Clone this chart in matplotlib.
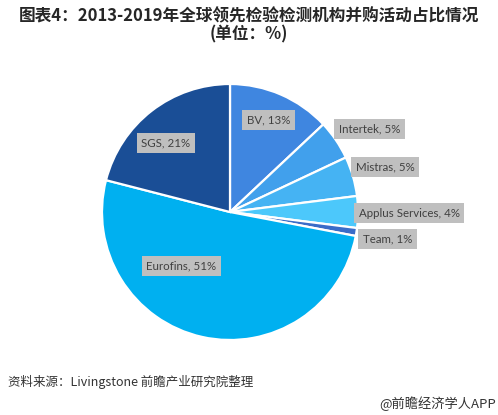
import numpy as np
import matplotlib
matplotlib.use("Agg")
from matplotlib import pyplot as plt

plt.rcParams["font.family"] = ["Noto Sans CJK SC", "DejaVu Sans"]

# data (clockwise from 12 o'clock)
companies = ["BV", "Intertek", "Mistras", "Applus Services", "Team", "Eurofins", "SGS"]
shares = [13, 5, 5, 4, 1, 51, 21]
colors = ["#3f86e0", "#41a0ec", "#45b3f3", "#4cc8fb", "#3a6cc8", "#00b0f0", "#1a4e96"]

title = "图表4：2013-2019年全球领先检验检测机构并购活动占比情况\n(单位：%)"
source = "资料来源：Livingstone 前瞻产业研究院整理"
brand = "@前瞻经济学人APP"

# label centres in units of pie radius
label_pos = [(0.30, 0.72), (1.09, 0.65), (1.21, 0.35), (1.40, -0.01),
             (1.23, -0.21), (-0.38, -0.42), (-0.50, 0.54)]

W, H = 498, 415
fig = plt.figure(figsize=(W / 100, H / 100), dpi=100)
fig.patch.set_facecolor("white")

cx, cy, R = 230, 212, 128
half = 150
ax = fig.add_axes([(cx - half) / W, (H - cy - half) / H, 2 * half / W, 2 * half / H])

ax.pie(shares, colors=colors, startangle=90, counterclock=False, radius=1,
       wedgeprops={"edgecolor": "white", "linewidth": 1.6})

# pie() resets the limits, so set them afterwards
lim = half / R
ax.set_xlim(-lim, lim)
ax.set_ylim(-lim, lim)
ax.set_aspect("equal")
ax.axis("off")

for name, val, (lx, ly) in zip(companies, shares, label_pos):
    ax.text(lx, ly, f"{name}, {val}%", ha="center", va="center",
            fontsize=8.3, family=["Lato", "DejaVu Sans"], color="#404040",
            bbox={"boxstyle": "square,pad=0.4", "facecolor": "#bfbfbf",
                  "edgecolor": "none"}, clip_on=False)

fig.text(0.5, 1 - 25 / H, title, ha="center", va="center", fontsize=12,
         fontweight="bold", color="#262626", linespacing=1.0)
fig.text(8 / W, 1 - 382 / H, source, ha="left", va="center", fontsize=9,
         color="#333333")
fig.text(1 - 2 / W, 1 - 404 / H, brand, ha="right", va="center", fontsize=9.5,
         color="#333333")

fig.savefig("out.png", dpi=100)
